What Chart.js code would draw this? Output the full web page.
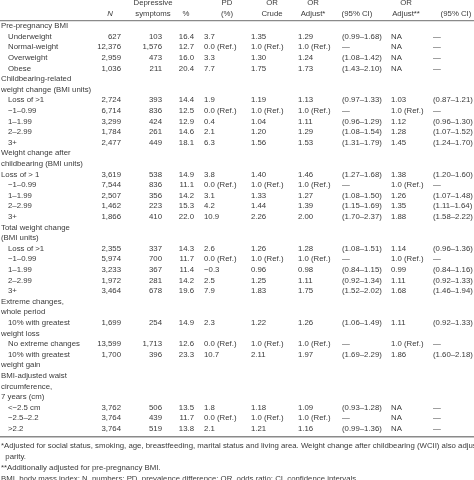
<!DOCTYPE html>
<html><head><meta charset="utf-8">
<script src="https://cdn.jsdelivr.net/npm/chart.js@4"></script>
<style>html,body{margin:0;padding:0;background:#fff}#w{width:474px;height:480px}</style>
</head><body><div id="w"><canvas id="c"></canvas></div>
<script>
const rowLabels=["Pre-pregnancy BMI","Underweight","Normal-weight","Overweight","Obese","Childbearing-related","weight change (BMI units)","Loss of >1","\u22121\u20130.99","1\u20131.99","2\u20132.99","3+","Weight change after","childbearing (BMI units)","Loss of > 1","\u22121\u20130.99","1\u20131.99","2\u20132.99","3+","Total weight change","(BMI units)","Loss of >1","\u22121\u20130.99","1\u20131.99","2\u20132.99","3+","Extreme changes,","whole period","10% with greatest","weight loss","No extreme changes","10% with greatest","weight gain","BMI-adjusted waist","circumference,","7 years (cm)","<\u22122.5 cm","\u22122.5\u20132.2",">2.2"];
const indented=[0,1,1,1,1,0,0,1,1,1,1,1,0,0,0,1,1,1,1,0,0,1,1,1,1,1,0,0,1,0,1,1,0,0,0,0,1,1,1];
const nValues=["","627","12,376","2,959","1,036","","","2,724","6,714","3,299","1,784","2,477","","","3,619","7,544","2,507","1,462","1,866","","","2,355","5,974","3,233","1,972","3,464","","","1,699","","13,599","1,700","","","","","3,762","3,764","3,764"];
const depValues=["","103","1,576","473","211","","","393","836","424","261","449","","","538","836","356","223","410","","","337","700","367","281","678","","","254","","1,713","396","","","","","506","439","519"];
const pctValues=["","16.4","12.7","16.0","20.4","","","14.4","12.5","12.9","14.6","18.1","","","14.9","11.1","14.2","15.3","22.0","","","14.3","11.7","11.4","14.2","19.6","","","14.9","","12.6","23.3","","","","","13.5","11.7","13.8"];
const pdValues=["","3.7","0.0 (Ref.)","3.3","7.7","","","1.9","0.0 (Ref.)","0.4","2.1","6.3","","","3.8","0.0 (Ref.)","3.1","4.2","10.9","","","2.6","0.0 (Ref.)","\u22120.3","2.5","7.9","","","2.3","","0.0 (Ref.)","10.7","","","","","1.8","0.0 (Ref.)","2.1"];
const orCrude=["","1.35","1.0 (Ref.)","1.30","1.75","","","1.19","1.0 (Ref.)","1.04","1.20","1.56","","","1.40","1.0 (Ref.)","1.33","1.44","2.26","","","1.26","1.0 (Ref.)","0.96","1.25","1.83","","","1.22","","1.0 (Ref.)","2.11","","","","","1.18","1.0 (Ref.)","1.21"];
const orAdj=["","1.29","1.0 (Ref.)","1.24","1.73","","","1.13","1.0 (Ref.)","1.11","1.29","1.53","","","1.46","1.0 (Ref.)","1.27","1.39","2.00","","","1.28","1.0 (Ref.)","0.98","1.11","1.75","","","1.26","","1.0 (Ref.)","1.97","","","","","1.09","1.0 (Ref.)","1.16"];
const ciAdj=["","(0.99\u20131.68)","\u2014","(1.08\u20131.42)","(1.43\u20132.10)","","","(0.97\u20131.33)","\u2014","(0.96\u20131.29)","(1.08\u20131.54)","(1.31\u20131.79)","","","(1.27\u20131.68)","\u2014","(1.08\u20131.50)","(1.15\u20131.69)","(1.70\u20132.37)","","","(1.08\u20131.51)","\u2014","(0.84\u20131.15)","(0.92\u20131.34)","(1.52\u20132.02)","","","(1.06\u20131.49)","","\u2014","(1.69\u20132.29)","","","","","(0.93\u20131.28)","\u2014","(0.99\u20131.36)"];
const orAdj2=["","NA","NA","NA","NA","","","1.03","1.0 (Ref.)","1.12","1.28","1.45","","","1.38","1.0 (Ref.)","1.26","1.35","1.88","","","1.14","1.0 (Ref.)","0.99","1.11","1.68","","","1.11","","1.0 (Ref.)","1.86","","","","","NA","NA","NA"];
const ciAdj2=["","\u2014","\u2014","\u2014","\u2014","","","(0.87\u20131.21)","\u2014","(0.96\u20131.30)","(1.07\u20131.52)","(1.24\u20131.70)","","","(1.20\u20131.60)","\u2014","(1.07\u20131.48)","(1.11\u20131.64)","(1.58\u20132.22)","","","(0.96\u20131.36)","\u2014","(0.84\u20131.16)","(0.92\u20131.33)","(1.46\u20131.94)","","","(0.92\u20131.33)","","\u2014","(1.60\u20132.18)","","","","","\u2014","\u2014","\u2014"];
const headerTop=["","Depressive","","PD","OR","OR","","OR",""];
const headerBottom=["N","symptoms","%","(%)","Crude","Adjust*","(95% CI)","Adjust**","(95% CI)"];
const footnotes=["*Adjusted for social status, smoking, age, breastfeeding, marital status and living area. Weight change after childbearing (WCII) also adjusted for","  parity.","**Additionally adjusted for pre-pregnancy BMI.","BMI, body mass index; N, numbers; PD, prevalence difference; OR, odds ratio; CI, confidence intervals."];

const cols=[
 {d:nValues,x:121,a:'right',h:110},
 {d:depValues,x:162,a:'right',h:153},
 {d:pctValues,x:194,a:'right',h:186},
 {d:pdValues,x:204,a:'left',h:227},
 {d:orCrude,x:251,a:'left',h:272},
 {d:orAdj,x:298,a:'left',h:313},
 {d:ciAdj,x:342,a:'left',h:357},
 {d:orAdj2,x:391,a:'left',h:406},
 {d:ciAdj2,x:433,a:'left',h:456}
];
const FONT='7.8px "Liberation Sans", Arial, sans-serif';
const COL='#3a3a3a';
const tablePlugin={id:'tbl',afterDatasetsDraw(ch){
 const c=ch.ctx,xs=ch.scales.x,ys=ch.scales.y;
 c.save();c.font=FONT;c.fillStyle=COL;c.textBaseline='middle';
 const X=v=>xs.getPixelForValue(v),Y=v=>ys.getPixelForValue(v);
 cols.forEach((k,j)=>{c.textAlign='center';
  if(headerTop[j])c.fillText(headerTop[j],X(k.h),Y(-2.15));
  if(j===0){c.font='italic '+FONT;}
  c.fillText(headerBottom[j],X(k.h),Y(-1.15));c.font=FONT;});
 c.strokeStyle='#8a8a8a';c.lineWidth=1.3;
 c.beginPath();c.moveTo(X(0),Y(-0.5));c.lineTo(X(474),Y(-0.5));c.stroke();
 c.beginPath();c.moveTo(X(0),Y(38.75));c.lineTo(X(474),Y(38.75));c.stroke();
 rowLabels.forEach((l,i)=>{c.textAlign='left';c.fillText(l,X(indented[i]?8:1),Y(i));});
 cols.forEach(k=>{c.textAlign=k.a;k.d.forEach((v,i)=>{if(v)c.fillText(v,X(k.x),Y(i));});});
 c.textAlign='left';
 footnotes.forEach((f,i)=>c.fillText(f,X(1),Y(39.6+i*1.05)));
 c.restore();}};
new Chart(document.getElementById('c'),{type:'scatter',
 data:{datasets:cols.map(k=>({data:k.d.map((v,i)=>({x:k.x,y:i})),pointRadius:0,showLine:false}))},
 options:{responsive:true,maintainAspectRatio:false,animation:false,events:[],
  layout:{padding:0},
  plugins:{legend:{display:false},tooltip:{enabled:false}},
  scales:{x:{type:'linear',min:0,max:474,display:false},
          y:{type:'linear',reverse:true,min:-2.453,max:42.83,display:false}}},
 plugins:[tablePlugin]});
</script></body></html>
